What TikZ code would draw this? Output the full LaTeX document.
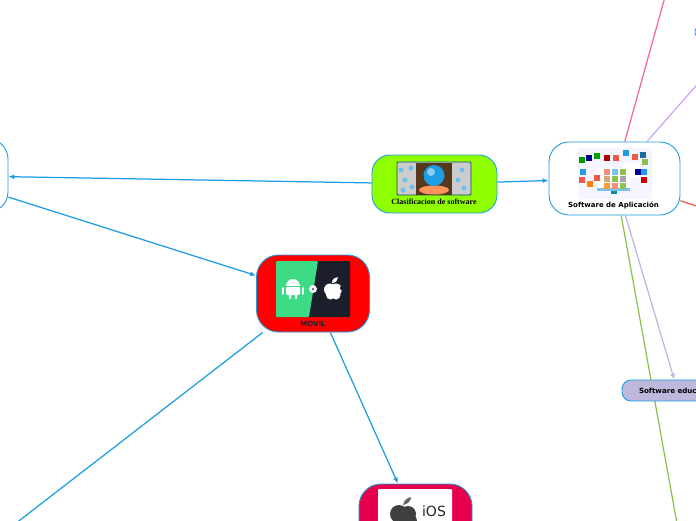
\documentclass[tikz,border=0pt]{standalone}
\usepackage{fontspec}
\setmainfont{DejaVu Sans}
\newfontfamily\serifbold{Liberation Serif}
\usetikzlibrary{arrows.meta,positioning}
\definecolor{linkblue}{HTML}{1E9DE3}
\definecolor{rosa}{HTML}{F56A95}
\definecolor{lila}{HTML}{CFA3F7}
\definecolor{rojo}{HTML}{EE5A48}
\definecolor{verde}{HTML}{8CC152}
\definecolor{lavanda}{HTML}{BDB8DC}
\definecolor{lima}{HTML}{90FF00}
\definecolor{iosred}{HTML}{E6004C}
\definecolor{android}{HTML}{3EDB87}
\definecolor{oscuro}{HTML}{1A1F2B}
\tikzstyle{topic} = [draw=linkblue, line width=0.9pt, rounded corners=20pt, inner sep=0pt]
\tikzstyle{link} = [draw=linkblue, line width=1.25pt]
\tikzstyle{arrow} = [link, -{Latex[length=6pt,width=5pt]}]
\tikzstyle{branch} = [line width=1.25pt]
\tikzstyle{caption} = [font=\bfseries\fontsize{7}{8}\selectfont, inner sep=0pt]
\tikzstyle{picbox} = [inner sep=0pt, rounded corners=1pt]

\begin{document}
\begin{tikzpicture}[x=1pt, y=-1pt]
    \clip (0,0) rectangle (696,520);

    \node [topic, fill=white, minimum width=136pt, minimum height=73pt] (sistemas) at (-60,175.5) {};
    \node [topic, fill=white, minimum width=131pt, minimum height=73pt] (aplicacion) at (614.5,178.5) {};
    \node [topic, fill=white, minimum width=20pt, minimum height=12pt, rounded corners=5pt] (extra) at (705,32) {};

    % branches of the application node
    \coordinate (finrosa) at (668,-14);
    \coordinate (finlila) at (724,54);
    \coordinate (finrojo) at (720,214);
    \coordinate (finverde) at (680,540);
    \coordinate (lejos) at (-20,551);
    \draw [branch, draw=rosa] (aplicacion) -- (finrosa);
    \draw [branch, draw=lila] (aplicacion) -- (finlila);
    \draw [branch, draw=rojo] (aplicacion) -- (finrojo);
    \draw [branch, draw=verde] (aplicacion) -- (finverde);

    \node [topic, fill=lima, minimum width=125pt, minimum height=58pt, rounded corners=18pt] (clasificacion) at (434.5,184) {};
    \node [topic, fill=red, minimum width=113pt, minimum height=77pt, rounded corners=22pt] (movil) at (313,293.5) {};
    \node [topic, fill=iosred, minimum width=113pt, minimum height=78pt, rounded corners=22pt] (ios) at (415.5,523) {};
    \node [topic, fill=lavanda, minimum width=111pt, minimum height=21pt, rounded corners=9pt, text width=77pt, align=left, font=\bfseries\fontsize{7.1}{8}\selectfont] (educativo) at (677.5,390.5) {Software educ};

    \draw [arrow] (clasificacion) -- (sistemas);
    \draw [arrow] (clasificacion) -- (aplicacion);
    \draw [arrow] (sistemas) -- (movil);
    \draw [arrow] (movil) -- (ios);
    \draw [link] (movil) -- (lejos);
    \draw [branch, draw=lavanda, -{Latex[length=6pt,width=5pt]}] (aplicacion) -- (educativo);

    % clasificacion picture
    \node [picbox, draw=linkblue!45!black, fill=gray!40, minimum width=74pt, minimum height=33pt, line width=0.9pt] (clasificacionpic) at (434,178.5) {};
    \fill [black!55!brown] (416,163) rectangle (452,194.5);
    \fill [orange!70!red!65!white] (434,190) ellipse (15pt and 4.5pt);
    \fill [linkblue] (434,175.5) circle (10.5pt);
    \fill [linkblue!50!white] (431,172) circle (4pt);
    \foreach \x/\y in {401/170, 411/168, 405/180, 412/187, 462/170, 458/180, 464/188, 403/190} {
        \fill [linkblue!65!white] (\x,\y) circle (2.5pt);
    }
    \node [caption, font=\bfseries\serifbold\fontsize{8}{9}\selectfont] (clasificaciontext) at (434,202) {Clasificacion de software};

    % aplicacion picture
    \node [picbox, fill=blue!4!white, minimum width=74pt, minimum height=51pt] (aplicacionpic) at (615,173.5) {};
    \fill [white] (597,168) rectangle (630,189);
    \fill [linkblue!60!white] (597,188) rectangle (630,190.5);
    \fill [linkblue!80!black] (611,190.5) rectangle (617,193.5);
    \fill [white] (623,163) rectangle (640,177);
    \foreach \x/\y/\c in {582/160/green!60!black, 589/158/blue!55!black, 597/156/green!65!black, 607/158/red!70!black, 616/158/rojo, 626/153/linkblue, 635/157/rojo, 643/155/linkblue!70!black, 645/162/verde, 583/172/linkblue, 582/180/rojo, 590/184/orange, 638/172/blue!60!black, 644/172/linkblue, 644/180/red!80!black, 597/178/rojo, 607/172/rojo!70!white, 615/172/linkblue!60!white, 623/172/verde, 607/179/brown!70!white, 615/179/verde, 623/179/gray!70, 607/186/orange!80!white, 615/186/rojo!70!white, 623/186/verde} {
        \fill [\c] (\x-2.6,\y-2.6) rectangle (\x+2.6,\y+2.6);
    }
    \node [caption] (aplicaciontext) at (613.5,205) {Software de Aplicación};

    % movil picture
    \node [picbox, fill=oscuro, minimum width=74pt, minimum height=56pt] (movilpic) at (313,289) {};
    \fill [android, rounded corners=1pt] (276,261) -- (318,261) -- (309,317) -- (276,317) -- cycle;
    \fill [white] (293,286) circle (7pt);
    \fill [android] (285,285.5) rectangle (301,287);
    \fill [white, rounded corners=1.5pt] (286,287) rectangle (300,295);
    \draw [white, line width=1.8pt, line cap=round] (283,288) -- (283,294) (303,288) -- (303,294) (290,295) -- (290,298.5) (296,295) -- (296,298.5);
    \fill [white] (313,289) circle (4pt);
    \fill [oscuro] (313,289) circle (1pt);
    \fill [white] (330,289.5) circle (6pt) (336,289.5) circle (6pt) (330.5,295) circle (4.5pt) (336,295) circle (4.5pt);
    \fill [white] (332,283) .. controls (332,279) and (335,277) .. (338,277) .. controls (338,280) and (336,283) .. (332,283);
    \fill [oscuro] (343,288) circle (3pt);
    \node [caption, text=oscuro] (moviltext) at (313,323.5) {MOVIL};

    % ios picture
    \node [picbox, fill=white, minimum width=74pt, minimum height=44pt, anchor=north] (iospic) at (415,489) {};
    \fill [black!75] (399,514) circle (9pt) (408,514) circle (8pt) (402,521) circle (9pt) (409,521) circle (8pt);
    \fill [black!60] (403,505) .. controls (404,500) and (407,498) .. (411,497) .. controls (411,501) and (408,504) .. (403,505);
    \node [font=\fontsize{14}{16}\selectfont, text=black!85, inner sep=0pt] (iostext) at (434,511.5) {iOS};
\end{tikzpicture}
\end{document}
